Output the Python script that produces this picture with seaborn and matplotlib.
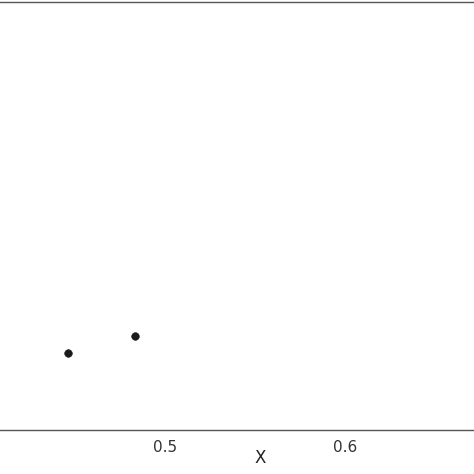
import matplotlib
matplotlib.use("Agg")
import matplotlib.pyplot as plt
import seaborn as sns
import pandas as pd

# values
x_vals = [0.446, 0.483]
y_vals = [0.18, 0.22]
x_ticks = [0.5, 0.6]

df = pd.DataFrame({"X": x_vals, "Y": y_vals})

sns.set_style("white")
fig = plt.figure(figsize=(4.74, 4.74), dpi=100)
ax = fig.add_axes([0.0, 0.093, 1.0, 0.903])

sns.scatterplot(data=df, x="X", y="Y", color="#1a1a1a", s=30, edgecolor="#1a1a1a", ax=ax)

ax.set_xlim(0.408, 0.672)
ax.set_ylim(0, 1)
ax.set_xticks(x_ticks)
ax.set_xticklabels([str(t) for t in x_ticks], fontsize=11, color="#333333")
ax.set_yticks([])
ax.set_ylabel("")
ax.set_xlabel("X", fontsize=12, color="#222222", labelpad=2)
ax.xaxis.set_label_coords(0.549, -0.045)
ax.tick_params(axis="x", length=4, color="#555555")
for side in ["left", "right"]:
    ax.spines[side].set_visible(False)
for side in ["top", "bottom"]:
    ax.spines[side].set_color("#555555")
    ax.spines[side].set_linewidth(1.0)

fig.savefig("out.png", dpi=100)
